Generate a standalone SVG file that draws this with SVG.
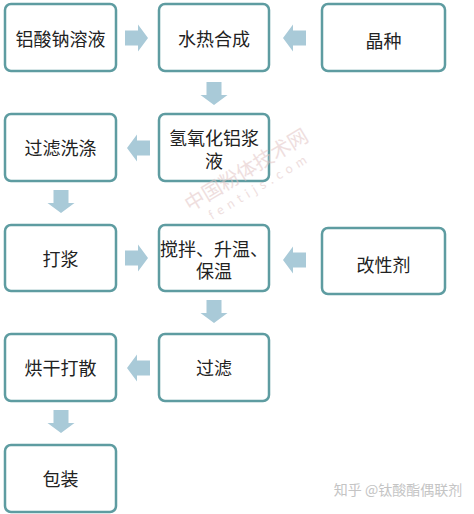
<svg xmlns="http://www.w3.org/2000/svg" width="474" height="514" viewBox="0 0 474 514">
<defs>
<style>
.box{fill:#fff;stroke:#5e9ca1;stroke-width:2.5}
.t{font-family:"Noto Sans CJK SC","Noto Sans",sans-serif;font-size:18px;fill:#222;text-anchor:middle;dominant-baseline:central}
.arr{fill:#a9cad8}
.wm{font-family:"Noto Sans CJK SC",sans-serif;fill:#e2c4c4;text-anchor:middle}
</style>
<path id="ar" d="M-11,-7.5 H2 V-13.5 L12,0 L2,13.5 V7.5 H-11 Z"/>
</defs>
<rect width="474" height="514" fill="#fff"/>
<text x="398" y="495" style="font-family:'Noto Sans CJK SC',sans-serif;font-size:14px;fill:#c4c4c4;text-anchor:middle">知乎 @钛酸酯偶联剂</text>
<g id="connectors" class="arr">
<use href="#ar" transform="translate(136,38)"/>
<use href="#ar" transform="translate(295,38) rotate(180)"/>
<use href="#ar" transform="translate(214,93) rotate(90)"/>
<use href="#ar" transform="translate(139,148) rotate(180)"/>
<use href="#ar" transform="translate(61,201) rotate(90)"/>
<use href="#ar" transform="translate(136,258)"/>
<use href="#ar" transform="translate(295,260) rotate(180)"/>
<use href="#ar" transform="translate(214,311) rotate(90)"/>
<use href="#ar" transform="translate(139,368) rotate(180)"/>
<use href="#ar" transform="translate(61,421) rotate(90)"/>
</g>
<g id="n1"><rect class="box" x="5" y="4" width="111" height="67" rx="6"/><text class="t" x="60.5" y="37.5">铝酸钠溶液</text></g>
<g id="n2"><rect class="box" x="159" y="4" width="110" height="67" rx="6"/><text class="t" x="214" y="37.5">水热合成</text></g>
<g id="n3"><rect class="box" x="322" y="4" width="123" height="67" rx="6"/><text class="t" x="383.5" y="40">晶种</text></g>
<g id="n4"><rect class="box" x="5" y="114" width="111" height="67" rx="6"/><text class="t" x="60.5" y="147">过滤洗涤</text></g>
<g id="n5"><rect class="box" x="159" y="114" width="110" height="67" rx="6"/><text class="t" x="214" y="137">氢氧化铝浆</text><text class="t" x="214" y="160">液</text></g>
<g id="n6"><rect class="box" x="5" y="225" width="111" height="66" rx="6"/><text class="t" x="60.5" y="258">打浆</text></g>
<g id="n7"><rect class="box" x="159" y="225" width="110" height="66" rx="6"/><text class="t" x="214" y="248">搅拌、升温、</text><text class="t" x="214" y="270">保温</text></g>
<g id="n8"><rect class="box" x="322" y="228" width="123" height="66" rx="6"/><text class="t" x="383.5" y="264">改性剂</text></g>
<g id="n9"><rect class="box" x="5" y="334" width="111" height="67" rx="6"/><text class="t" x="60.5" y="367">烘干打散</text></g>
<g id="n10"><rect class="box" x="159" y="334" width="110" height="67" rx="6"/><text class="t" x="214" y="367">过滤</text></g>
<g id="n11"><rect class="box" x="5" y="445" width="111" height="67" rx="6"/><text class="t" x="60.5" y="478">包装</text></g>
<g id="watermark" opacity="0.55">
<text class="wm" font-size="20" transform="translate(250,176) rotate(-31)">中国粉体技术网</text>
<text class="wm" font-size="12" letter-spacing="5" transform="translate(262,190) rotate(-31)">fentijs.com</text>
</g>
</svg>
